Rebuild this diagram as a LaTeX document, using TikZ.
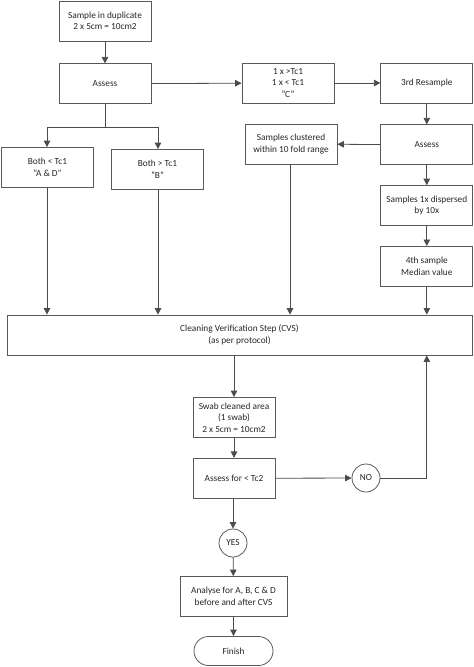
\documentclass[tikz,border=0pt]{standalone}
\usepackage{fontspec}
\setmainfont{Carlito}
\usetikzlibrary{positioning, arrows.meta, shapes.misc}

\begin{document}
\begin{tikzpicture}[x=1pt, y=-1pt, node distance=22pt and 46pt,
  every node/.style={draw=black!65, line width=0.8pt, align=center, minimum width=92pt, minimum height=40pt, inner sep=1pt, text=black!85, font=\fontsize{9.3}{11.5}\selectfont},
  decision/.style={circle, minimum size=28pt, inner sep=0pt},
  terminal/.style={rounded rectangle, minimum width=81pt, minimum height=29pt},
  arrow/.style={-{Triangle[length=6.5pt, width=6.5pt]}, line width=0.8pt, draw=black!70}]
      \useasboundingbox (0,0) rectangle (474,667);
      \node (sample) at (105,21) {Sample in duplicate\\2 x 5cm = 10cm2}; \node[below=of
      sample] (assess) {Assess}; \node (bothlow) at (47.5,167.5) {Both < Tc1\\"A \& D"};
      \node (bothhigh) at (157.5,169.5) {Both > Tc1\\"B"}; \node (onex) at (288,83)
      {1 x >Tc1\\1 x < Tc1\\"C"}; \node[right=of onex] (resample) {3rd Resample};
      \node[below=21pt of resample] (assessr) {Assess}; \node (cluster) at (291,144)
      {Samples clustered\\within 10 fold range}; \node[below=20pt of assessr] (disp)
      {Samples 1x dispersed\\by 10x}; \node[below=20pt of disp] (fourth) {4th sample\\Median
      value}; \node[minimum width=465pt] (cvs) at (239.5,335) {Cleaning Verification Step
      (CVS)\\(as per protocol)}; \node[minimum width=82pt] (swab) at (234,417.5) {Swab
      cleaned area\\(1 swab)\\2 x 5cm = 10cm2}; \node[minimum width=82pt, below=20pt of
      swab] (assesstwo) {Assess for < Tc2}; \node[decision] (no) at (366,478) {NO};
      \node[decision] (yes) at (233,543) {YES}; \node[minimum width=107pt] (analyse) at
      (233.5,596.5) {Analyse for A, B, C \& D\\before and after CVS}; \node[terminal]
      (finish) at (233.5,651) {Finish};

      \draw[arrow] (sample) -- (assess); \draw[arrow] (assess.south) -- (assess.south |-
      0,127) -| (bothlow.north -| 47,0); \draw[arrow] (assess.south) -- (assess.south |-
      0,127) -| (bothhigh.north -| 158,0); \draw[arrow] (assess) -- (onex); \draw[arrow]
      (onex) -- (resample); \draw[arrow] (resample) -- (assessr); \draw[arrow] (assessr) --
      (cluster); \draw[arrow] (assessr) -- (disp); \draw[arrow] (disp) -- (fourth);
      \draw[arrow] (bothlow.south -| 47,0) -- (cvs.north -| 47,0); \draw[arrow]
      (bothhigh.south -| 158,0) -- (cvs.north -| 158,0); \draw[arrow] (cluster.south -|
      290,0) -- (cvs.north -| 290,0); \draw[arrow] (fourth) -- (cvs.north -| fourth);
      \draw[arrow] (cvs.south -| swab) -- (swab); \draw[arrow] (swab) -- (assesstwo);
      \draw[arrow] (assesstwo) -- (no); \draw[arrow] (no) -| (cvs.south -| fourth);
      \draw[arrow] (assesstwo.south -| yes) -- (yes); \draw[arrow] (yes) -- (analyse);
      \draw[arrow] (analyse) -- (finish);
    \end{tikzpicture}
\end{document}
